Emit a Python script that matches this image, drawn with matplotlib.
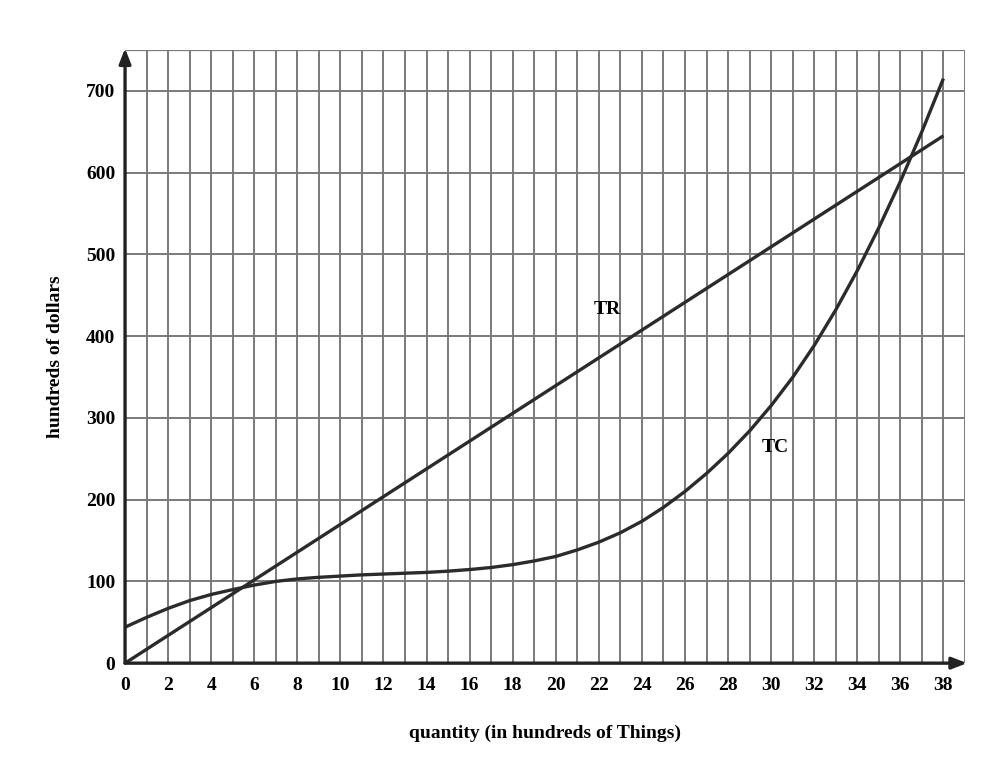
import matplotlib.pyplot as plt

# quantities (hundreds of Things) and read-off values (hundreds of dollars)
q = list(range(0, 39))
tc = [44, 56, 67, 76.5, 84, 90, 95.5, 100, 103, 105, 106.5, 108, 109, 110, 111,
      112.5, 114.5, 117, 120.5, 125, 130.5, 138.5, 148, 159.5, 173.5, 190.5,
      210, 232, 256.5, 284, 315, 349.5, 388.5, 432, 480, 532.5, 589, 650, 715]
tr_q = [0, 38]
tr = [0, 645]

x_ticks = list(range(0, 39, 2))
y_ticks = list(range(0, 701, 100))

plt.rcParams['font.family'] = ['Liberation Serif', 'DejaVu Serif']
plt.rcParams['font.weight'] = 'bold'

fig = plt.figure(figsize=(10.02, 7.64), dpi=100)
ax = fig.add_axes([0.1248, 0.132, 0.963 - 0.1248, 0.9346 - 0.132])
ax.set_xlim(0, 39)
ax.set_ylim(0, 750)

gc = '#7a7a7a'
for xv in range(1, 40):
    ax.axvline(xv, color=gc, lw=1.4, zorder=1)
for yv in range(100, 751, 100):
    ax.axhline(yv, color=gc, lw=1.4, zorder=1)
ax.axhline(750, color=gc, lw=1.6, zorder=1)

for s in ax.spines.values():
    s.set_visible(False)

ax.plot(tr_q, tr, color='#2b2b2b', lw=2.4, zorder=3, solid_capstyle='butt')
ax.plot(q, tc, color='#2b2b2b', lw=2.4, zorder=3, solid_capstyle='butt',
        solid_joinstyle='round')

# axes with arrows
ax.annotate('', xy=(0, 752), xytext=(0, 0),
            arrowprops=dict(arrowstyle='-|>,head_length=0.9,head_width=0.35',
                            color='#222222', lw=2.4, shrinkA=0, shrinkB=0),
            annotation_clip=False, zorder=4)
ax.annotate('', xy=(39.1, 0), xytext=(0, 0),
            arrowprops=dict(arrowstyle='-|>,head_length=0.9,head_width=0.35',
                            color='#222222', lw=2.4, shrinkA=0, shrinkB=0),
            annotation_clip=False, zorder=4)

ax.set_xticks(x_ticks)
ax.set_yticks(y_ticks)
ax.tick_params(axis='x', length=0, labelsize=14, pad=10)
ax.tick_params(axis='y', length=0, labelsize=14, pad=7)
for lab in ax.get_xticklabels() + ax.get_yticklabels():
    lab.set_fontweight('bold')

ax.text(22.4, 432, 'TR', fontsize=14, fontweight='bold', ha='center', va='center')
ax.text(30.2, 264, 'TC', fontsize=14, fontweight='bold', ha='center', va='center')

ax.set_xlabel('quantity (in hundreds of Things)', fontsize=14, fontweight='bold', labelpad=22)
ax.set_ylabel('hundreds of dollars', fontsize=14, fontweight='bold', labelpad=16)

fig.savefig('out.png', dpi=100)
